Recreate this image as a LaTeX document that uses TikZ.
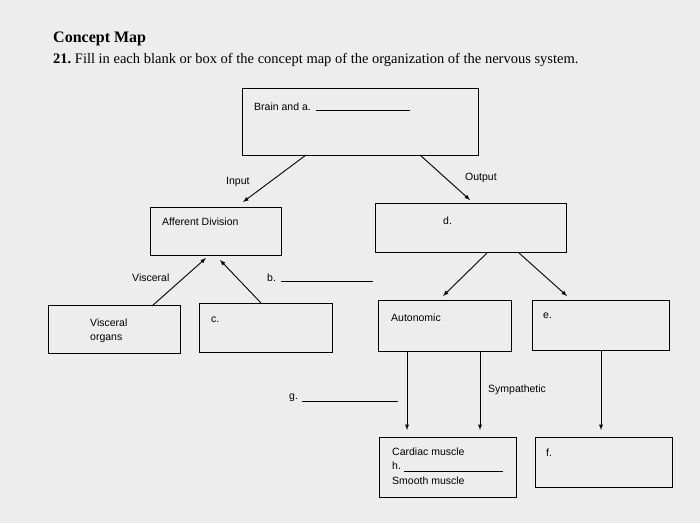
\documentclass[tikz,border=0pt]{standalone}
\usepackage{fontspec}
\setmainfont{Liberation Sans}
\newfontfamily\titlefont{Liberation Serif}
\begin{document}
\begin{tikzpicture}[x=1pt,y=-1pt,
  box/.style={draw,line width=0.9pt},
  lbl/.style={anchor=west,font=\fontsize{10.5}{14.5}\selectfont,inner sep=0},
  con/.style={-latex,line width=0.9pt},
  blank/.style={line width=0.4pt}]
\fill[gray!14] (0,0) rectangle (700,523);
\useasboundingbox (0,0) rectangle (700,523);
\node[anchor=west,inner sep=0,font=\titlefont\bfseries\fontsize{16}{18}\selectfont] (title) at (53,39) {Concept Map};
\node[anchor=west,inner sep=0,font=\titlefont\fontsize{14.5}{16}\selectfont] (q) at (53,60) {\textbf{21.}\ Fill in each blank or box of the concept map of the organization of the nervous system.};
% boxes
\draw[box] (242,88) rectangle (478,155);
\coordinate (top1) at (306,155); \coordinate (top2) at (420,155);
\node[lbl] (ta) at (254,107) {Brain and a.}; \draw[blank] (316,110) -- (410,110);
\draw[box] (150,207) rectangle (281,255);
\node[lbl] (aff) at (162,222) {Afferent Division};
\draw[box] (375,203) rectangle (566,252);
\node[lbl] (d) at (443,221) {d.};
\draw[box] (48,305) rectangle (180,353);
\node[lbl,align=left] (vo) at (90,331) {Visceral\\organs};
\draw[box] (199,303) rectangle (332,352);
\node[lbl] (c) at (211,320) {c.};
\draw[box] (378,300) rectangle (511,351);
\node[lbl] (aut) at (391,318) {Autonomic};
\draw[box] (532,300) rectangle (669,350);
\node[lbl] (e) at (543,316) {e.};
\draw[box] (379,437) rectangle (516,497);
\node[lbl] (card) at (392,452) {Cardiac muscle};
\node[lbl] (h) at (392,466) {h.};
\node[lbl] (sm) at (392,481) {Smooth muscle};
\draw[blank] (404,471) -- (503,471);
\draw[box] (535,437) rectangle (672,487);
\node[lbl] (f) at (546,453) {f.};
% connectors
\coordinate (affin) at (243,202);
\coordinate (dIn) at (470,200);
\draw[con] (top1) -- (affin);
\draw[con] (top2) -- (dIn);
\node[lbl] (input) at (226,182) {Input};
\node[lbl] (output) at (465,178) {Output};
\coordinate (vs) at (152,306); \coordinate (ve) at (206,258);
\draw[con] (vs) -- (ve);
\coordinate (cs) at (261,303); \coordinate (ce) at (220,260);
\draw[con] (cs) -- (ce);
\node[lbl] (visc) at (132,278) {Visceral};
\node[lbl] (b) at (267,278) {b.}; \draw[blank] (281,281) -- (373,281);
\coordinate (d1) at (487,253); \coordinate (d1e) at (443,296);
\coordinate (d2) at (519,253); \coordinate (d2e) at (567,296);
\draw[con] (d1) -- (d1e);
\draw[con] (d2) -- (d2e);
\coordinate (a1) at (407,351); \coordinate (a1e) at (407,430);
\coordinate (a2) at (480,351); \coordinate (a2e) at (480,430);
\coordinate (e1) at (601,350); \coordinate (e1e) at (601,430);
\draw[con] (a1) -- (a1e);
\draw[con] (a2) -- (a2e);
\draw[con] (e1) -- (e1e);
\node[lbl] (symp) at (488,390) {Sympathetic};
\node[lbl] (g) at (289,398) {g.}; \draw[blank] (302,401) -- (398,401);
\end{tikzpicture}
\end{document}
